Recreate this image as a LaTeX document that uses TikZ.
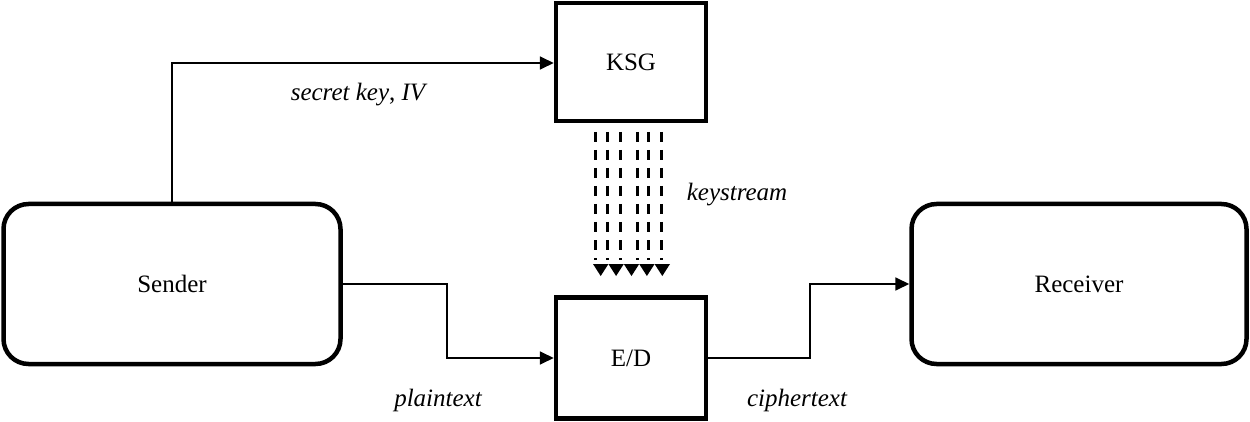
\documentclass[tikz,border=0pt]{standalone}
\usepackage{fontspec}
\setmainfont{Liberation Serif}
\usetikzlibrary{arrows.meta}
\begin{document}
\begin{tikzpicture}[x=1pt,y=-1pt,
  box/.style={draw,line width=4.5pt,inner sep=0pt,font=\fontsize{25}{30}\selectfont},
  conn/.style={line width=1.8pt,-{Triangle[length=14pt,width=13pt]}},
  lab/.style={font=\fontsize{25}{30}\selectfont\itshape}]
\useasboundingbox (0,0) rectangle (1250,422);
\node[box,minimum width=150pt,minimum height=118pt] (ksg) at (631,62) {KSG};
\node[box,minimum width=150pt,minimum height=121pt] (ed) at (631,358) {E/D};
\node[box,rounded corners=25pt,minimum width=337pt,minimum height=160pt] (s) at (172,284) {Sender};
\node[box,rounded corners=25pt,minimum width=335pt,minimum height=160pt] (r) at (1079,284) {Receiver};
\coordinate (c1) at (172,63);
\draw[conn] (s.north -| c1) -- (c1) -- (ksg.west |- c1);
\draw[conn] (s.east) -- (447,284) -- (447,358) -- (ed.west);
\draw[conn] (ed.east) -- (810,358) -- (810,284) -- (r.west);
\foreach \x in {595,607,620,637,648,661}
  \draw[line width=3pt,dash pattern=on 10pt off 8pt] (\x,132) -- (\x,260);
\foreach \i in {0,...,4}
  \fill ({593+15.4*\i},264) -- ({608.4+15.4*\i},264) -- ({600.7+15.4*\i},276) -- cycle;
\node[lab] (l1) at (358,95) {secret key\textup{,} IV};
\node[lab] (l2) at (737,195) {keystream};
\node[lab] (l3) at (438,400) {plaintext};
\node[lab] (l4) at (797,400) {ciphertext};
\end{tikzpicture}
\end{document}
